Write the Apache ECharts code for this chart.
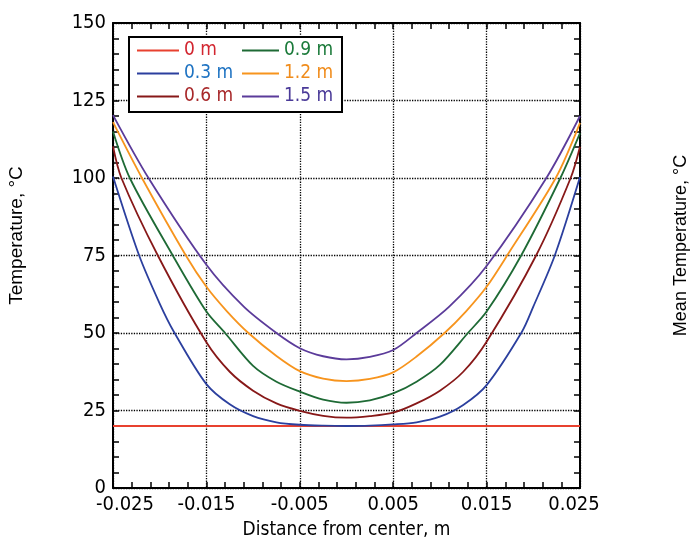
<!DOCTYPE html>
<html>
<head>
<meta charset="utf-8">
<script src="https://cdn.jsdelivr.net/npm/echarts@6/dist/echarts.min.js"></script>
<style>
html,body{margin:0;padding:0;background:#fff;}
#chart{width:700px;height:542px;}
</style>
</head>
<body>
<div id="chart"></div>
<script>
// ---- data ----
const seriesNames = ['0 m', '0.3 m', '0.6 m', '0.9 m', '1.2 m', '1.5 m'];
const xTicks = [-0.025, -0.015, -0.005, 0.005, 0.015, 0.025];
const yTicks = [0, 25, 50, 75, 100, 125, 150];

const x0m = [-0.025, 0.025];
const y0m = [20, 20];

const x03 = [-0.025, -0.0222, -0.02, -0.0185, -0.015, -0.0125, -0.01, -0.0075, -0.005, -0.0025, 0, 0.0025, 0.005, 0.0075, 0.01, 0.0125, 0.015, 0.0188, 0.02, 0.0223, 0.025];
const y03 = [100.5, 75, 59.5, 50.5, 33.5, 27, 23.2, 21.2, 20.4, 20.1, 20, 20.1, 20.5, 21.2, 23, 26.8, 33.2, 50.5, 58.5, 75, 100.3];

const x06 = [-0.025, -0.0241, -0.0202, -0.015, -0.0125, -0.01, -0.0075, -0.005, -0.0025, 0, 0.0025, 0.005, 0.0075, 0.01, 0.0125, 0.015, 0.0203, 0.024, 0.025];
const y06 = [110.2, 100, 75, 47, 37.5, 31.4, 27.3, 24.9, 23.3, 22.7, 23.2, 24.3, 27.3, 31.4, 37.5, 47.2, 75, 100, 110.1];

const x09 = [-0.025, -0.0232, -0.0186, -0.015, -0.013, -0.01, -0.0075, -0.005, -0.0025, 0, 0.0025, 0.005, 0.0075, 0.01, 0.013, 0.015, 0.0187, 0.0229, 0.025];
const y09 = [115, 100, 75, 56.9, 50, 39.4, 34.3, 31.1, 28.5, 27.5, 28.3, 30.5, 34.3, 39.7, 50, 56.9, 75, 100, 114.5];

const x12 = [-0.025, -0.0219, -0.0172, -0.015, -0.0128, -0.0105, -0.0075, -0.005, -0.0025, 0, 0.0025, 0.005, 0.0075, 0.0105, 0.0128, 0.015, 0.0172, 0.0224, 0.025];
const y12 = [118, 100, 75, 64.9, 57, 50, 42.6, 37.7, 35.3, 34.5, 35.2, 37.3, 42.4, 50, 57, 64.9, 75, 100, 117.8];

const x15 = [-0.025, -0.0212, -0.015, -0.011, -0.0075, -0.005, -0.0025, 0, 0.0025, 0.005, 0.0075, 0.011, 0.015, 0.0214, 0.025];
const y15 = [120.3, 100, 72, 58.5, 50, 45.1, 42.5, 41.5, 42.3, 44.5, 50, 58.5, 71.6, 100, 120];

// ---- styles ----
const lineColors = ['#e8412f', '#2b3f9e', '#871818', '#1e6a35', '#f7941d', '#5b3b9a'];
const textColors = ['#d22630', '#1f73c2', '#a8282a', '#1b7a3a', '#f08c1c', '#4a3a98'];
const NARROW = "'DejaVu Sans Condensed', 'Liberation Sans Narrow', sans-serif";
const REG = "'Liberation Sans', Arial, sans-serif";

function pairs(xs, ys) { return xs.map((x, i) => [x, ys[i]]); }
const allX = [x0m, x03, x06, x09, x12, x15];
const allY = [y0m, y03, y06, y09, y12, y15];

const fmtX = v => {
  const s = (Math.round(v * 1000) / 1000).toFixed(3);
  if (Math.abs(v - xTicks[0]) < 1e-9) return '{l|' + s + '}';
  if (Math.abs(v - xTicks[xTicks.length - 1]) < 1e-9) return '{r|' + s + '}';
  return s;
};

const frameLine = { show: true, onZero: false, lineStyle: { color: '#000', width: 2 } };
const tickCommon = { show: true, inside: true, length: 6, lineStyle: { color: '#000', width: 1.5 } };
const minorCommon = { show: true, splitNumber: 5, length: 6, lineStyle: { color: '#000', width: 1.5 } };
const gridLine = { show: true, lineStyle: { type: 'dotted', color: '#000', width: 1.3 } };

const chart = echarts.init(document.getElementById('chart'), null, { renderer: 'canvas' });

const option = {
  backgroundColor: '#fff',
  animation: false,
  grid: { left: 113, right: 120, top: 23, bottom: 54, containLabel: false, outerBoundsMode: 'none' },
  xAxis: [
    {
      type: 'value', position: 'bottom',
      min: xTicks[0], max: xTicks[xTicks.length - 1], interval: 0.01,
      axisLine: frameLine, axisTick: tickCommon, minorTick: minorCommon,
      splitLine: gridLine,
      axisLabel: {
        show: true, margin: 7, color: '#000', fontFamily: NARROW, fontSize: 20,
        formatter: fmtX,
        rich: {
          l: { fontFamily: NARROW, fontSize: 20, color: '#000', padding: [0, 0, 0, 24] },
          r: { fontFamily: NARROW, fontSize: 20, color: '#000', padding: [0, 12, 0, 0] }
        }
      },
      name: 'Distance from center, m', nameLocation: 'middle', nameGap: 33,
      nameTextStyle: { color: '#000', fontFamily: NARROW, fontSize: 19 }
    },
    {
      type: 'value', position: 'top',
      min: xTicks[0], max: xTicks[xTicks.length - 1], interval: 0.01,
      axisLine: frameLine, axisTick: tickCommon, minorTick: minorCommon,
      splitLine: { show: false }, axisLabel: { show: false }
    }
  ],
  yAxis: [
    {
      type: 'value', position: 'left',
      min: yTicks[0], max: yTicks[yTicks.length - 1], interval: 25,
      axisLine: frameLine, axisTick: tickCommon, minorTick: minorCommon,
      splitLine: gridLine,
      axisLabel: { show: true, margin: 7, color: '#000', fontFamily: NARROW, fontSize: 20 },
      name: 'Temperature, °C', nameLocation: 'middle', nameGap: 87, nameRotate: 90,
      nameTextStyle: { color: '#000', fontFamily: REG, fontSize: 19, padding: [0, 0, 0, 40] }
    },
    {
      type: 'value', position: 'right',
      min: yTicks[0], max: yTicks[yTicks.length - 1], interval: 25,
      axisLine: frameLine, axisTick: tickCommon, minorTick: minorCommon,
      splitLine: { show: false }, axisLabel: { show: false },
      name: 'Mean Temperature, °C', nameLocation: 'middle', nameGap: 92, nameRotate: 90,
      nameTextStyle: { color: '#000', fontFamily: REG, fontSize: 18, padding: [0, 0, 0, 20] }
    }
  ],
  legend: [
    {
      orient: 'vertical', left: 137, top: 39, padding: 0, itemGap: 0,
      itemWidth: 42, itemHeight: 2, icon: 'rect', z: 10,
      textStyle: { fontFamily: NARROW, fontSize: 19, lineHeight: 23 },
      data: seriesNames.slice(0, 3).map((n, i) => ({ name: n, textStyle: { color: textColors[i] } }))
    },
    {
      orient: 'vertical', left: 242, top: 39, padding: 0, itemGap: 0,
      itemWidth: 37, itemHeight: 2, icon: 'rect', z: 10,
      textStyle: { fontFamily: NARROW, fontSize: 19, lineHeight: 23 },
      data: seriesNames.slice(3).map((n, i) => ({ name: n, textStyle: { color: textColors[i + 3] } }))
    }
  ],
  graphic: [
    {
      type: 'rect', z: 8, left: 128, top: 36,
      shape: { width: 213, height: 75 },
      style: { fill: '#fff', stroke: '#000', lineWidth: 2 }
    }
  ],
  series: seriesNames.map((n, i) => ({
    name: n, type: 'line', xAxisIndex: 0, yAxisIndex: 0,
    data: pairs(allX[i], allY[i]),
    symbol: 'none', smooth: 0.3,
    lineStyle: { color: lineColors[i], width: 1.8 },
    itemStyle: { color: lineColors[i] },
    z: 2 + i
  }))
};
chart.setOption(option);
</script>
</body>
</html>
